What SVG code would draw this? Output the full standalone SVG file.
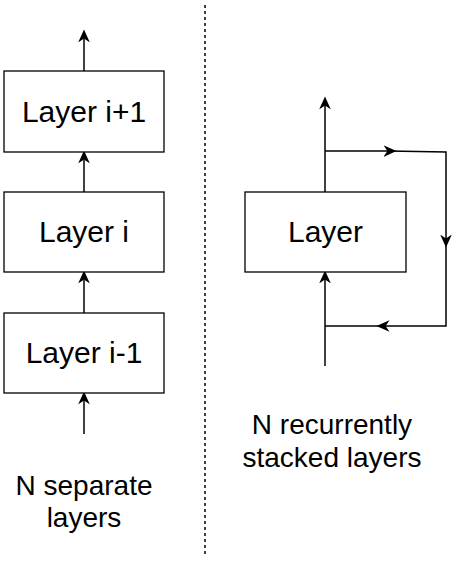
<svg xmlns="http://www.w3.org/2000/svg" width="460" height="561" viewBox="0 0 460 561">
<style>
.box{fill:#fff;stroke:#000;stroke-width:1.3}
.lbl{font-family:"Liberation Sans",Arial,sans-serif;font-size:30px;fill:#000;text-anchor:middle;dominant-baseline:central}
.cap{font-family:"Liberation Sans",Arial,sans-serif;font-size:28px;fill:#000;text-anchor:middle}
.ln{fill:none;stroke:#000;stroke-width:1.5}
</style>
<defs>
<marker id="ah" viewBox="0 0 10 10" refX="8" refY="5" markerWidth="13" markerHeight="13" markerUnits="userSpaceOnUse" orient="auto">
<path d="M0,0.5 L10,5 L0,9.5 L3,5 Z" fill="#000"/>
</marker>
<marker id="ahm" viewBox="0 0 10 10" refX="5" refY="5" markerWidth="13" markerHeight="13" markerUnits="userSpaceOnUse" orient="auto">
<path d="M0,0.5 L10,5 L0,9.5 L3,5 Z" fill="#000"/>
</marker>
</defs>
<line x1="205" y1="5" x2="205" y2="555" stroke="#000" stroke-width="1.5" stroke-dasharray="3,3"/>
<g id="connectors">
<path class="ln" d="M84,71 L84,32" marker-end="url(#ah)"/>
<path class="ln" d="M84,192 L84,153" marker-end="url(#ah)"/>
<path class="ln" d="M84,313 L84,273" marker-end="url(#ah)"/>
<path class="ln" d="M84,434 L84,394" marker-end="url(#ah)"/>
<path class="ln" d="M325,192 L325,99" marker-end="url(#ah)"/>
<path class="ln" d="M325,366 L325,273" marker-end="url(#ah)"/>
<path class="ln" d="M325,151 L390,151" marker-end="url(#ahm)"/>
<path class="ln" d="M388,151 L446,152 L446,241" marker-end="url(#ahm)"/>
<path class="ln" d="M446,238 L446,326 L383,326" marker-end="url(#ahm)"/>
<path class="ln" d="M386,326 L325,326"/>
</g>
<g id="layer-ip1"><rect class="box" x="4" y="71" width="160" height="81"/><text class="lbl" x="84" y="111">Layer i+1</text></g>
<g id="layer-i"><rect class="box" x="4" y="192" width="160" height="80"/><text class="lbl" x="84" y="231.5">Layer i</text></g>
<g id="layer-im1"><rect class="box" x="4" y="313" width="160" height="80"/><text class="lbl" x="84" y="352.5">Layer i-1</text></g>
<g id="layer"><rect class="box" x="245" y="192" width="161" height="80"/><text class="lbl" x="325.5" y="231.5">Layer</text></g>
<g id="captions">
<text class="cap" x="84" y="495">N separate</text>
<text class="cap" x="84" y="527">layers</text>
<text class="cap" x="332" y="434">N recurrently</text>
<text class="cap" x="332" y="467">stacked layers</text>
</g>
</svg>
